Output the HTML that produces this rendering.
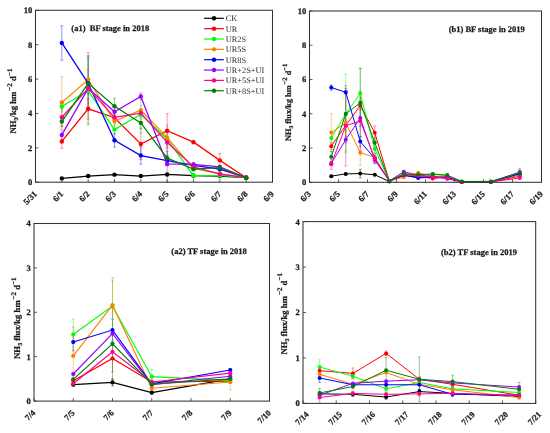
<!DOCTYPE html><html><head><meta charset="utf-8"><style>html,body{margin:0;padding:0;background:#fff;width:550px;height:433px;overflow:hidden}svg{display:block;will-change:transform}</style></head><body><svg width="550" height="433" viewBox="0 0 550 433" text-rendering="geometricPrecision"><path d="M61.83 134.58V148.34M60.33 134.58H63.33M60.33 148.34H63.33" stroke="#ff0000" stroke-width="0.6" fill="none" opacity="0.7"/>
<path d="M88.17 98.48V119.11M86.67 98.48H89.67M86.67 119.11H89.67" stroke="#ff0000" stroke-width="0.6" fill="none" opacity="0.7"/>
<path d="M114.5 112.58V122.89M113 112.58H116M113 122.89H116" stroke="#ff0000" stroke-width="0.6" fill="none" opacity="0.7"/>
<path d="M140.83 128.57V159.51M139.33 128.57H142.33M139.33 159.51H142.33" stroke="#ff0000" stroke-width="0.6" fill="none" opacity="0.7"/>
<path d="M167.17 113.61V147.99M165.67 113.61H168.67M165.67 147.99H168.67" stroke="#ff0000" stroke-width="0.6" fill="none" opacity="0.7"/>
<path d="M193.5 140.43V143.87M192 140.43H195M192 143.87H195" stroke="#ff0000" stroke-width="0.6" fill="none" opacity="0.7"/>
<path d="M219.83 153.49V167.24M218.33 153.49H221.33M218.33 167.24H221.33" stroke="#ff0000" stroke-width="0.6" fill="none" opacity="0.7"/>
<path d="M246.17 176.87V178.59M244.67 176.87H247.67M244.67 178.59H247.67" stroke="#ff0000" stroke-width="0.6" fill="none" opacity="0.7"/>
<path d="M61.83 76.65V128.22M60.33 76.65H63.33M60.33 128.22H63.33" stroke="#ff8000" stroke-width="0.6" fill="none" opacity="0.7"/>
<path d="M88.17 69.26V89.89M86.67 69.26H89.67M86.67 89.89H89.67" stroke="#ff8000" stroke-width="0.6" fill="none" opacity="0.7"/>
<path d="M114.5 115.85V126.16M113 115.85H116M113 126.16H116" stroke="#ff8000" stroke-width="0.6" fill="none" opacity="0.7"/>
<path d="M140.83 105.02V115.33M139.33 105.02H142.33M139.33 115.33H142.33" stroke="#ff8000" stroke-width="0.6" fill="none" opacity="0.7"/>
<path d="M167.17 132.52V142.83M165.67 132.52H168.67M165.67 142.83H168.67" stroke="#ff8000" stroke-width="0.6" fill="none" opacity="0.7"/>
<path d="M193.5 166.73V170.17M192 166.73H195M192 170.17H195" stroke="#ff8000" stroke-width="0.6" fill="none" opacity="0.7"/>
<path d="M219.83 171.89V175.32M218.33 171.89H221.33M218.33 175.32H221.33" stroke="#ff8000" stroke-width="0.6" fill="none" opacity="0.7"/>
<path d="M246.17 176.87V178.59M244.67 176.87H247.67M244.67 178.59H247.67" stroke="#ff8000" stroke-width="0.6" fill="none" opacity="0.7"/>
<path d="M61.83 25.77V60.15M60.33 25.77H63.33M60.33 60.15H63.33" stroke="#0000ff" stroke-width="0.6" fill="none" opacity="0.7"/>
<path d="M88.17 55.85V110.86M86.67 55.85H89.67M86.67 110.86H89.67" stroke="#0000ff" stroke-width="0.6" fill="none" opacity="0.7"/>
<path d="M114.5 133.38V147.13M113 133.38H116M113 147.13H116" stroke="#0000ff" stroke-width="0.6" fill="none" opacity="0.7"/>
<path d="M140.83 146.96V164.15M139.33 146.96H142.33M139.33 164.15H142.33" stroke="#0000ff" stroke-width="0.6" fill="none" opacity="0.7"/>
<path d="M167.17 155.38V165.7M165.67 155.38H168.67M165.67 165.7H168.67" stroke="#0000ff" stroke-width="0.6" fill="none" opacity="0.7"/>
<path d="M193.5 163.63V167.07M192 163.63H195M192 167.07H195" stroke="#0000ff" stroke-width="0.6" fill="none" opacity="0.7"/>
<path d="M219.83 167.42V170.85M218.33 167.42H221.33M218.33 170.85H221.33" stroke="#0000ff" stroke-width="0.6" fill="none" opacity="0.7"/>
<path d="M246.17 176.87V178.59M244.67 176.87H247.67M244.67 178.59H247.67" stroke="#0000ff" stroke-width="0.6" fill="none" opacity="0.7"/>
<path d="M61.83 129.77V140.08M60.33 129.77H63.33M60.33 140.08H63.33" stroke="#9900ff" stroke-width="0.6" fill="none" opacity="0.7"/>
<path d="M88.17 83.19V93.5M86.67 83.19H89.67M86.67 93.5H89.67" stroke="#9900ff" stroke-width="0.6" fill="none" opacity="0.7"/>
<path d="M114.5 106.56V116.88M113 106.56H116M113 116.88H116" stroke="#9900ff" stroke-width="0.6" fill="none" opacity="0.7"/>
<path d="M140.83 92.98V99.86M139.33 92.98H142.33M139.33 99.86H142.33" stroke="#9900ff" stroke-width="0.6" fill="none" opacity="0.7"/>
<path d="M167.17 145.07V182.2M165.67 145.07H168.67M165.67 182.2H168.67" stroke="#9900ff" stroke-width="0.6" fill="none" opacity="0.7"/>
<path d="M193.5 162.78V166.21M192 162.78H195M192 166.21H195" stroke="#9900ff" stroke-width="0.6" fill="none" opacity="0.7"/>
<path d="M219.83 165.18V168.62M218.33 165.18H221.33M218.33 168.62H221.33" stroke="#9900ff" stroke-width="0.6" fill="none" opacity="0.7"/>
<path d="M246.17 176.87V178.59M244.67 176.87H247.67M244.67 178.59H247.67" stroke="#9900ff" stroke-width="0.6" fill="none" opacity="0.7"/>
<path d="M61.83 108.63V125.82M60.33 108.63H63.33M60.33 125.82H63.33" stroke="#ff0090" stroke-width="0.6" fill="none" opacity="0.7"/>
<path d="M88.17 52.76V123.93M86.67 52.76H89.67M86.67 123.93H89.67" stroke="#ff0090" stroke-width="0.6" fill="none" opacity="0.7"/>
<path d="M114.5 112.24V122.55M113 112.24H116M113 122.55H116" stroke="#ff0090" stroke-width="0.6" fill="none" opacity="0.7"/>
<path d="M140.83 109.66V116.53M139.33 109.66H142.33M139.33 116.53H142.33" stroke="#ff0090" stroke-width="0.6" fill="none" opacity="0.7"/>
<path d="M167.17 125.13V159.51M165.67 125.13H168.67M165.67 159.51H168.67" stroke="#ff0090" stroke-width="0.6" fill="none" opacity="0.7"/>
<path d="M193.5 165.18V168.62M192 165.18H195M192 168.62H195" stroke="#ff0090" stroke-width="0.6" fill="none" opacity="0.7"/>
<path d="M219.83 172.4V175.84M218.33 172.4H221.33M218.33 175.84H221.33" stroke="#ff0090" stroke-width="0.6" fill="none" opacity="0.7"/>
<path d="M246.17 176.87V178.59M244.67 176.87H247.67M244.67 178.59H247.67" stroke="#ff0090" stroke-width="0.6" fill="none" opacity="0.7"/>
<path d="M61.83 101.41V111.72M60.33 101.41H63.33M60.33 111.72H63.33" stroke="#00ff00" stroke-width="0.6" fill="none" opacity="0.7"/>
<path d="M88.17 56.37V125.13M86.67 56.37H89.67M86.67 125.13H89.67" stroke="#00ff00" stroke-width="0.6" fill="none" opacity="0.7"/>
<path d="M114.5 124.44V134.76M113 124.44H116M113 134.76H116" stroke="#00ff00" stroke-width="0.6" fill="none" opacity="0.7"/>
<path d="M140.83 95.39V133.21M139.33 95.39H142.33M139.33 133.21H142.33" stroke="#00ff00" stroke-width="0.6" fill="none" opacity="0.7"/>
<path d="M167.17 134.07V144.38M165.67 134.07H168.67M165.67 144.38H168.67" stroke="#00ff00" stroke-width="0.6" fill="none" opacity="0.7"/>
<path d="M193.5 173.78V177.21M192 173.78H195M192 177.21H195" stroke="#00ff00" stroke-width="0.6" fill="none" opacity="0.7"/>
<path d="M219.83 173.78V177.21M218.33 173.78H221.33M218.33 177.21H221.33" stroke="#00ff00" stroke-width="0.6" fill="none" opacity="0.7"/>
<path d="M246.17 176.87V178.59M244.67 176.87H247.67M244.67 178.59H247.67" stroke="#00ff00" stroke-width="0.6" fill="none" opacity="0.7"/>
<path d="M61.83 116.36V126.68M60.33 116.36H63.33M60.33 126.68H63.33" stroke="#008000" stroke-width="0.6" fill="none" opacity="0.7"/>
<path d="M88.17 58.43V108.28M86.67 58.43H89.67M86.67 108.28H89.67" stroke="#008000" stroke-width="0.6" fill="none" opacity="0.7"/>
<path d="M114.5 98.14V114.3M113 98.14H116M113 114.3H116" stroke="#008000" stroke-width="0.6" fill="none" opacity="0.7"/>
<path d="M140.83 117.74V128.05M139.33 117.74H142.33M139.33 128.05H142.33" stroke="#008000" stroke-width="0.6" fill="none" opacity="0.7"/>
<path d="M167.17 151.26V165.01M165.67 151.26H168.67M165.67 165.01H168.67" stroke="#008000" stroke-width="0.6" fill="none" opacity="0.7"/>
<path d="M193.5 167.42V170.85M192 167.42H195M192 170.85H195" stroke="#008000" stroke-width="0.6" fill="none" opacity="0.7"/>
<path d="M219.83 165.87V169.31M218.33 165.87H221.33M218.33 169.31H221.33" stroke="#008000" stroke-width="0.6" fill="none" opacity="0.7"/>
<path d="M246.17 176.87V178.59M244.67 176.87H247.67M244.67 178.59H247.67" stroke="#008000" stroke-width="0.6" fill="none" opacity="0.7"/>
<polyline points="61.83,178.42 88.17,176.01 114.5,174.64 140.83,176.01 167.17,174.46 193.5,175.67 219.83,176.01 246.17,177.73" stroke="#000000" stroke-width="1.25" fill="none"/>
<circle cx="61.83" cy="178.42" r="2.2" fill="#000000"/>
<circle cx="88.17" cy="176.01" r="2.2" fill="#000000"/>
<circle cx="114.5" cy="174.64" r="2.2" fill="#000000"/>
<circle cx="140.83" cy="176.01" r="2.2" fill="#000000"/>
<circle cx="167.17" cy="174.46" r="2.2" fill="#000000"/>
<circle cx="193.5" cy="175.67" r="2.2" fill="#000000"/>
<circle cx="219.83" cy="176.01" r="2.2" fill="#000000"/>
<circle cx="246.17" cy="177.73" r="2.2" fill="#000000"/>
<polyline points="61.83,141.46 88.17,108.8 114.5,117.74 140.83,144.04 167.17,130.8 193.5,142.15 219.83,160.37 246.17,177.73" stroke="#ff0000" stroke-width="1.25" fill="none"/>
<circle cx="61.83" cy="141.46" r="2.2" fill="#ff0000"/>
<circle cx="88.17" cy="108.8" r="2.2" fill="#ff0000"/>
<circle cx="114.5" cy="117.74" r="2.2" fill="#ff0000"/>
<circle cx="140.83" cy="144.04" r="2.2" fill="#ff0000"/>
<circle cx="167.17" cy="130.8" r="2.2" fill="#ff0000"/>
<circle cx="193.5" cy="142.15" r="2.2" fill="#ff0000"/>
<circle cx="219.83" cy="160.37" r="2.2" fill="#ff0000"/>
<circle cx="246.17" cy="177.73" r="2.2" fill="#ff0000"/>
<polyline points="61.83,106.56 88.17,90.75 114.5,129.6 140.83,114.3 167.17,139.22 193.5,175.5 219.83,175.5 246.17,177.73" stroke="#00ff00" stroke-width="1.25" fill="none"/>
<circle cx="61.83" cy="106.56" r="2.2" fill="#00ff00"/>
<circle cx="88.17" cy="90.75" r="2.2" fill="#00ff00"/>
<circle cx="114.5" cy="129.6" r="2.2" fill="#00ff00"/>
<circle cx="140.83" cy="114.3" r="2.2" fill="#00ff00"/>
<circle cx="167.17" cy="139.22" r="2.2" fill="#00ff00"/>
<circle cx="193.5" cy="175.5" r="2.2" fill="#00ff00"/>
<circle cx="219.83" cy="175.5" r="2.2" fill="#00ff00"/>
<circle cx="246.17" cy="177.73" r="2.2" fill="#00ff00"/>
<polyline points="61.83,102.44 88.17,79.58 114.5,121 140.83,110.17 167.17,137.68 193.5,168.45 219.83,173.6 246.17,177.73" stroke="#ff8000" stroke-width="1.25" fill="none"/>
<circle cx="61.83" cy="102.44" r="2.2" fill="#ff8000"/>
<circle cx="88.17" cy="79.58" r="2.2" fill="#ff8000"/>
<circle cx="114.5" cy="121" r="2.2" fill="#ff8000"/>
<circle cx="140.83" cy="110.17" r="2.2" fill="#ff8000"/>
<circle cx="167.17" cy="137.68" r="2.2" fill="#ff8000"/>
<circle cx="193.5" cy="168.45" r="2.2" fill="#ff8000"/>
<circle cx="219.83" cy="173.6" r="2.2" fill="#ff8000"/>
<circle cx="246.17" cy="177.73" r="2.2" fill="#ff8000"/>
<polyline points="61.83,42.96 88.17,83.36 114.5,140.26 140.83,155.56 167.17,160.54 193.5,165.35 219.83,169.14 246.17,177.73" stroke="#0000ff" stroke-width="1.25" fill="none"/>
<circle cx="61.83" cy="42.96" r="2.2" fill="#0000ff"/>
<circle cx="88.17" cy="83.36" r="2.2" fill="#0000ff"/>
<circle cx="114.5" cy="140.26" r="2.2" fill="#0000ff"/>
<circle cx="140.83" cy="155.56" r="2.2" fill="#0000ff"/>
<circle cx="167.17" cy="160.54" r="2.2" fill="#0000ff"/>
<circle cx="193.5" cy="165.35" r="2.2" fill="#0000ff"/>
<circle cx="219.83" cy="169.14" r="2.2" fill="#0000ff"/>
<circle cx="246.17" cy="177.73" r="2.2" fill="#0000ff"/>
<polyline points="61.83,134.93 88.17,88.34 114.5,111.72 140.83,96.42 167.17,163.98 193.5,164.49 219.83,166.9 246.17,177.73" stroke="#9900ff" stroke-width="1.25" fill="none"/>
<circle cx="61.83" cy="134.93" r="2.2" fill="#9900ff"/>
<circle cx="88.17" cy="88.34" r="2.2" fill="#9900ff"/>
<circle cx="114.5" cy="111.72" r="2.2" fill="#9900ff"/>
<circle cx="140.83" cy="96.42" r="2.2" fill="#9900ff"/>
<circle cx="167.17" cy="163.98" r="2.2" fill="#9900ff"/>
<circle cx="193.5" cy="164.49" r="2.2" fill="#9900ff"/>
<circle cx="219.83" cy="166.9" r="2.2" fill="#9900ff"/>
<circle cx="246.17" cy="177.73" r="2.2" fill="#9900ff"/>
<polyline points="61.83,117.22 88.17,88.34 114.5,117.39 140.83,113.1 167.17,142.32 193.5,166.9 219.83,174.12 246.17,177.73" stroke="#ff0090" stroke-width="1.25" fill="none"/>
<circle cx="61.83" cy="117.22" r="2.2" fill="#ff0090"/>
<circle cx="88.17" cy="88.34" r="2.2" fill="#ff0090"/>
<circle cx="114.5" cy="117.39" r="2.2" fill="#ff0090"/>
<circle cx="140.83" cy="113.1" r="2.2" fill="#ff0090"/>
<circle cx="167.17" cy="142.32" r="2.2" fill="#ff0090"/>
<circle cx="193.5" cy="166.9" r="2.2" fill="#ff0090"/>
<circle cx="219.83" cy="174.12" r="2.2" fill="#ff0090"/>
<circle cx="246.17" cy="177.73" r="2.2" fill="#ff0090"/>
<polyline points="61.83,121.52 88.17,83.36 114.5,106.22 140.83,122.89 167.17,158.13 193.5,169.14 219.83,167.59 246.17,177.73" stroke="#008000" stroke-width="1.25" fill="none"/>
<circle cx="61.83" cy="121.52" r="2.2" fill="#008000"/>
<circle cx="88.17" cy="83.36" r="2.2" fill="#008000"/>
<circle cx="114.5" cy="106.22" r="2.2" fill="#008000"/>
<circle cx="140.83" cy="122.89" r="2.2" fill="#008000"/>
<circle cx="167.17" cy="158.13" r="2.2" fill="#008000"/>
<circle cx="193.5" cy="169.14" r="2.2" fill="#008000"/>
<circle cx="219.83" cy="167.59" r="2.2" fill="#008000"/>
<circle cx="246.17" cy="177.73" r="2.2" fill="#008000"/>
<rect x="35.5" y="10.3" width="237" height="171.9" fill="none" stroke="#333333" stroke-width="1.05"/>
<path d="M35.5 182.2V179.2" stroke="#333333" stroke-width="0.8"/>
<text x="37.5" y="194.5" text-anchor="end" transform="rotate(-45 37.5 194.5)" font-family="Liberation Serif" font-weight="bold" font-size="8.5" fill="#1a1a1a" stroke="#1a1a1a" stroke-width="0.25">5/31</text>
<path d="M61.83 182.2V179.2" stroke="#333333" stroke-width="0.8"/>
<text x="63.83" y="194.5" text-anchor="end" transform="rotate(-45 63.83 194.5)" font-family="Liberation Serif" font-weight="bold" font-size="8.5" fill="#1a1a1a" stroke="#1a1a1a" stroke-width="0.25">6/1</text>
<path d="M88.17 182.2V179.2" stroke="#333333" stroke-width="0.8"/>
<text x="90.17" y="194.5" text-anchor="end" transform="rotate(-45 90.17 194.5)" font-family="Liberation Serif" font-weight="bold" font-size="8.5" fill="#1a1a1a" stroke="#1a1a1a" stroke-width="0.25">6/2</text>
<path d="M114.5 182.2V179.2" stroke="#333333" stroke-width="0.8"/>
<text x="116.5" y="194.5" text-anchor="end" transform="rotate(-45 116.5 194.5)" font-family="Liberation Serif" font-weight="bold" font-size="8.5" fill="#1a1a1a" stroke="#1a1a1a" stroke-width="0.25">6/3</text>
<path d="M140.83 182.2V179.2" stroke="#333333" stroke-width="0.8"/>
<text x="142.83" y="194.5" text-anchor="end" transform="rotate(-45 142.83 194.5)" font-family="Liberation Serif" font-weight="bold" font-size="8.5" fill="#1a1a1a" stroke="#1a1a1a" stroke-width="0.25">6/4</text>
<path d="M167.17 182.2V179.2" stroke="#333333" stroke-width="0.8"/>
<text x="169.17" y="194.5" text-anchor="end" transform="rotate(-45 169.17 194.5)" font-family="Liberation Serif" font-weight="bold" font-size="8.5" fill="#1a1a1a" stroke="#1a1a1a" stroke-width="0.25">6/5</text>
<path d="M193.5 182.2V179.2" stroke="#333333" stroke-width="0.8"/>
<text x="195.5" y="194.5" text-anchor="end" transform="rotate(-45 195.5 194.5)" font-family="Liberation Serif" font-weight="bold" font-size="8.5" fill="#1a1a1a" stroke="#1a1a1a" stroke-width="0.25">6/6</text>
<path d="M219.83 182.2V179.2" stroke="#333333" stroke-width="0.8"/>
<text x="221.83" y="194.5" text-anchor="end" transform="rotate(-45 221.83 194.5)" font-family="Liberation Serif" font-weight="bold" font-size="8.5" fill="#1a1a1a" stroke="#1a1a1a" stroke-width="0.25">6/7</text>
<path d="M246.17 182.2V179.2" stroke="#333333" stroke-width="0.8"/>
<text x="248.17" y="194.5" text-anchor="end" transform="rotate(-45 248.17 194.5)" font-family="Liberation Serif" font-weight="bold" font-size="8.5" fill="#1a1a1a" stroke="#1a1a1a" stroke-width="0.25">6/8</text>
<path d="M272.5 182.2V179.2" stroke="#333333" stroke-width="0.8"/>
<text x="274.5" y="194.5" text-anchor="end" transform="rotate(-45 274.5 194.5)" font-family="Liberation Serif" font-weight="bold" font-size="8.5" fill="#1a1a1a" stroke="#1a1a1a" stroke-width="0.25">6/9</text>
<path d="M35.5 182.2H38.5" stroke="#333333" stroke-width="0.8"/>
<text x="32.2" y="185.1" text-anchor="end" font-family="Liberation Serif" font-weight="bold" font-size="8.5" fill="#1a1a1a" stroke="#1a1a1a" stroke-width="0.25">0</text>
<path d="M35.5 147.82H38.5" stroke="#333333" stroke-width="0.8"/>
<text x="32.2" y="150.72" text-anchor="end" font-family="Liberation Serif" font-weight="bold" font-size="8.5" fill="#1a1a1a" stroke="#1a1a1a" stroke-width="0.25">2</text>
<path d="M35.5 113.44H38.5" stroke="#333333" stroke-width="0.8"/>
<text x="32.2" y="116.34" text-anchor="end" font-family="Liberation Serif" font-weight="bold" font-size="8.5" fill="#1a1a1a" stroke="#1a1a1a" stroke-width="0.25">4</text>
<path d="M35.5 79.06H38.5" stroke="#333333" stroke-width="0.8"/>
<text x="32.2" y="81.96" text-anchor="end" font-family="Liberation Serif" font-weight="bold" font-size="8.5" fill="#1a1a1a" stroke="#1a1a1a" stroke-width="0.25">6</text>
<path d="M35.5 44.68H38.5" stroke="#333333" stroke-width="0.8"/>
<text x="32.2" y="47.58" text-anchor="end" font-family="Liberation Serif" font-weight="bold" font-size="8.5" fill="#1a1a1a" stroke="#1a1a1a" stroke-width="0.25">8</text>
<path d="M35.5 10.3H38.5" stroke="#333333" stroke-width="0.8"/>
<text x="32.2" y="13.2" text-anchor="end" font-family="Liberation Serif" font-weight="bold" font-size="8.5" fill="#1a1a1a" stroke="#1a1a1a" stroke-width="0.25">10</text>
<text x="71.3" y="30.8" font-family="Liberation Serif" font-weight="bold" font-size="8.5" fill="#1a1a1a" stroke="#1a1a1a" stroke-width="0.25" xml:space="preserve">(a1)  BF stage in 2018</text>
<text transform="translate(16 133.5) rotate(-90) scale(1.000)" font-family="Liberation Serif" font-weight="bold" font-size="8.7" fill="#1a1a1a" stroke="#1a1a1a" stroke-width="0.25">NH<tspan font-size="6" dy="2">3</tspan><tspan dy="-2">/kg hm</tspan><tspan font-size="7" dx="1" dy="-4.2">&#8722;2</tspan><tspan dy="4.2"> d</tspan><tspan font-size="7" dy="-4.2">&#8722;1</tspan></text>
<path d="M204.1 18.3H223.8" stroke="#000000" stroke-width="1.2"/>
<circle cx="214" cy="18.3" r="2.2" fill="#000000"/>
<text x="225.8" y="21.3" font-family="Liberation Serif" font-size="8.3" fill="#2a2a2a">CK</text>
<path d="M204.1 28.65H223.8" stroke="#ff0000" stroke-width="1.2"/>
<circle cx="214" cy="28.65" r="2.2" fill="#ff0000"/>
<text x="225.8" y="31.65" font-family="Liberation Serif" font-size="8.3" fill="#2a2a2a">UR</text>
<path d="M204.1 39H223.8" stroke="#00ff00" stroke-width="1.2"/>
<circle cx="214" cy="39" r="2.2" fill="#00ff00"/>
<text x="225.8" y="42" font-family="Liberation Serif" font-size="8.3" fill="#2a2a2a">UR2S</text>
<path d="M204.1 49.35H223.8" stroke="#ff8000" stroke-width="1.2"/>
<circle cx="214" cy="49.35" r="2.2" fill="#ff8000"/>
<text x="225.8" y="52.35" font-family="Liberation Serif" font-size="8.3" fill="#2a2a2a">UR5S</text>
<path d="M204.1 59.7H223.8" stroke="#0000ff" stroke-width="1.2"/>
<circle cx="214" cy="59.7" r="2.2" fill="#0000ff"/>
<text x="225.8" y="62.7" font-family="Liberation Serif" font-size="8.3" fill="#2a2a2a">UR8S</text>
<path d="M204.1 70.05H223.8" stroke="#9900ff" stroke-width="1.2"/>
<circle cx="214" cy="70.05" r="2.2" fill="#9900ff"/>
<text x="225.8" y="73.05" font-family="Liberation Serif" font-size="8.3" fill="#2a2a2a">UR+2S+UI</text>
<path d="M204.1 80.4H223.8" stroke="#ff0090" stroke-width="1.2"/>
<circle cx="214" cy="80.4" r="2.2" fill="#ff0090"/>
<text x="225.8" y="83.4" font-family="Liberation Serif" font-size="8.3" fill="#2a2a2a">UR+5S+UI</text>
<path d="M204.1 90.75H223.8" stroke="#008000" stroke-width="1.2"/>
<circle cx="214" cy="90.75" r="2.2" fill="#008000"/>
<text x="225.8" y="93.75" font-family="Liberation Serif" font-size="8.3" fill="#2a2a2a">UR+8S+UI</text>
<path d="M331.25 175.28V176.99M329.75 175.28H332.75M329.75 176.99H332.75" stroke="#000000" stroke-width="0.6" fill="none" opacity="0.7"/>
<path d="M345.75 173.05V174.76M344.25 173.05H347.25M344.25 174.76H347.25" stroke="#000000" stroke-width="0.6" fill="none" opacity="0.7"/>
<path d="M360.25 169.28V177.85M358.75 169.28H361.75M358.75 177.85H361.75" stroke="#000000" stroke-width="0.6" fill="none" opacity="0.7"/>
<path d="M374.75 173.91V175.62M373.25 173.91H376.25M373.25 175.62H376.25" stroke="#000000" stroke-width="0.6" fill="none" opacity="0.7"/>
<path d="M389.25 181.1V181.79M387.75 181.1H390.75M387.75 181.79H390.75" stroke="#000000" stroke-width="0.6" fill="none" opacity="0.7"/>
<path d="M403.75 174.59V176.3M402.25 174.59H405.25M402.25 176.3H405.25" stroke="#000000" stroke-width="0.6" fill="none" opacity="0.7"/>
<path d="M418.25 176.3V178.02M416.75 176.3H419.75M416.75 178.02H419.75" stroke="#000000" stroke-width="0.6" fill="none" opacity="0.7"/>
<path d="M432.75 176.3V178.02M431.25 176.3H434.25M431.25 178.02H434.25" stroke="#000000" stroke-width="0.6" fill="none" opacity="0.7"/>
<path d="M447.25 176.3V178.02M445.75 176.3H448.75M445.75 178.02H448.75" stroke="#000000" stroke-width="0.6" fill="none" opacity="0.7"/>
<path d="M519.75 173.74V175.45M518.25 173.74H521.25M518.25 175.45H521.25" stroke="#000000" stroke-width="0.6" fill="none" opacity="0.7"/>
<path d="M331.25 142.73V149.58M329.75 142.73H332.75M329.75 149.58H332.75" stroke="#ff0000" stroke-width="0.6" fill="none" opacity="0.7"/>
<path d="M345.75 120.29V130.57M344.25 120.29H347.25M344.25 130.57H347.25" stroke="#ff0000" stroke-width="0.6" fill="none" opacity="0.7"/>
<path d="M360.25 91.85V119.26M358.75 91.85H361.75M358.75 119.26H361.75" stroke="#ff0000" stroke-width="0.6" fill="none" opacity="0.7"/>
<path d="M374.75 125.94V139.65M373.25 125.94H376.25M373.25 139.65H376.25" stroke="#ff0000" stroke-width="0.6" fill="none" opacity="0.7"/>
<path d="M389.25 180.59V181.27M387.75 180.59H390.75M387.75 181.27H390.75" stroke="#ff0000" stroke-width="0.6" fill="none" opacity="0.7"/>
<path d="M403.75 173.74V175.45M402.25 173.74H405.25M402.25 175.45H405.25" stroke="#ff0000" stroke-width="0.6" fill="none" opacity="0.7"/>
<path d="M418.25 175.45V177.16M416.75 175.45H419.75M416.75 177.16H419.75" stroke="#ff0000" stroke-width="0.6" fill="none" opacity="0.7"/>
<path d="M432.75 177.67V179.39M431.25 177.67H434.25M431.25 179.39H434.25" stroke="#ff0000" stroke-width="0.6" fill="none" opacity="0.7"/>
<path d="M447.25 176.3V178.02M445.75 176.3H448.75M445.75 178.02H448.75" stroke="#ff0000" stroke-width="0.6" fill="none" opacity="0.7"/>
<path d="M519.75 175.45V177.16M518.25 175.45H521.25M518.25 177.16H521.25" stroke="#ff0000" stroke-width="0.6" fill="none" opacity="0.7"/>
<path d="M331.25 113.78V151.47M329.75 113.78H332.75M329.75 151.47H332.75" stroke="#ff8000" stroke-width="0.6" fill="none" opacity="0.7"/>
<path d="M345.75 93.74V151.98M344.25 93.74H347.25M344.25 151.98H347.25" stroke="#ff8000" stroke-width="0.6" fill="none" opacity="0.7"/>
<path d="M360.25 139.82V165.51M358.75 139.82H361.75M358.75 165.51H361.75" stroke="#ff8000" stroke-width="0.6" fill="none" opacity="0.7"/>
<path d="M374.75 152.15V162.43M373.25 152.15H376.25M373.25 162.43H376.25" stroke="#ff8000" stroke-width="0.6" fill="none" opacity="0.7"/>
<path d="M389.25 180.59V181.27M387.75 180.59H390.75M387.75 181.27H390.75" stroke="#ff8000" stroke-width="0.6" fill="none" opacity="0.7"/>
<path d="M403.75 176.3V178.02M402.25 176.3H405.25M402.25 178.02H405.25" stroke="#ff8000" stroke-width="0.6" fill="none" opacity="0.7"/>
<path d="M418.25 171.85V173.56M416.75 171.85H419.75M416.75 173.56H419.75" stroke="#ff8000" stroke-width="0.6" fill="none" opacity="0.7"/>
<path d="M432.75 175.45V177.16M431.25 175.45H434.25M431.25 177.16H434.25" stroke="#ff8000" stroke-width="0.6" fill="none" opacity="0.7"/>
<path d="M447.25 175.45V177.16M445.75 175.45H448.75M445.75 177.16H448.75" stroke="#ff8000" stroke-width="0.6" fill="none" opacity="0.7"/>
<path d="M519.75 173.74V175.45M518.25 173.74H521.25M518.25 175.45H521.25" stroke="#ff8000" stroke-width="0.6" fill="none" opacity="0.7"/>
<path d="M331.25 85V90.14M329.75 85H332.75M329.75 90.14H332.75" stroke="#0000ff" stroke-width="0.6" fill="none" opacity="0.7"/>
<path d="M345.75 90.48V93.91M344.25 90.48H347.25M344.25 93.91H347.25" stroke="#0000ff" stroke-width="0.6" fill="none" opacity="0.7"/>
<path d="M360.25 136.39V146.67M358.75 136.39H361.75M358.75 146.67H361.75" stroke="#0000ff" stroke-width="0.6" fill="none" opacity="0.7"/>
<path d="M374.75 155.06V161.92M373.25 155.06H376.25M373.25 161.92H376.25" stroke="#0000ff" stroke-width="0.6" fill="none" opacity="0.7"/>
<path d="M389.25 180.59V181.27M387.75 180.59H390.75M387.75 181.27H390.75" stroke="#0000ff" stroke-width="0.6" fill="none" opacity="0.7"/>
<path d="M403.75 174.25V175.96M402.25 174.25H405.25M402.25 175.96H405.25" stroke="#0000ff" stroke-width="0.6" fill="none" opacity="0.7"/>
<path d="M418.25 177.16V178.87M416.75 177.16H419.75M416.75 178.87H419.75" stroke="#0000ff" stroke-width="0.6" fill="none" opacity="0.7"/>
<path d="M432.75 176.3V178.02M431.25 176.3H434.25M431.25 178.02H434.25" stroke="#0000ff" stroke-width="0.6" fill="none" opacity="0.7"/>
<path d="M447.25 176.3V178.02M445.75 176.3H448.75M445.75 178.02H448.75" stroke="#0000ff" stroke-width="0.6" fill="none" opacity="0.7"/>
<path d="M519.75 172.88V174.59M518.25 172.88H521.25M518.25 174.59H521.25" stroke="#0000ff" stroke-width="0.6" fill="none" opacity="0.7"/>
<path d="M331.25 161.74V165.17M329.75 161.74H332.75M329.75 165.17H332.75" stroke="#9900ff" stroke-width="0.6" fill="none" opacity="0.7"/>
<path d="M345.75 136.22V143.07M344.25 136.22H347.25M344.25 143.07H347.25" stroke="#9900ff" stroke-width="0.6" fill="none" opacity="0.7"/>
<path d="M360.25 109.5V126.63M358.75 109.5H361.75M358.75 126.63H361.75" stroke="#9900ff" stroke-width="0.6" fill="none" opacity="0.7"/>
<path d="M374.75 156.61V163.46M373.25 156.61H376.25M373.25 163.46H376.25" stroke="#9900ff" stroke-width="0.6" fill="none" opacity="0.7"/>
<path d="M389.25 180.59V181.27M387.75 180.59H390.75M387.75 181.27H390.75" stroke="#9900ff" stroke-width="0.6" fill="none" opacity="0.7"/>
<path d="M403.75 170.82V172.54M402.25 170.82H405.25M402.25 172.54H405.25" stroke="#9900ff" stroke-width="0.6" fill="none" opacity="0.7"/>
<path d="M418.25 174.59V176.3M416.75 174.59H419.75M416.75 176.3H419.75" stroke="#9900ff" stroke-width="0.6" fill="none" opacity="0.7"/>
<path d="M432.75 175.45V177.16M431.25 175.45H434.25M431.25 177.16H434.25" stroke="#9900ff" stroke-width="0.6" fill="none" opacity="0.7"/>
<path d="M447.25 178.02V179.73M445.75 178.02H448.75M445.75 179.73H448.75" stroke="#9900ff" stroke-width="0.6" fill="none" opacity="0.7"/>
<path d="M519.75 168.25V175.79M518.25 168.25H521.25M518.25 175.79H521.25" stroke="#9900ff" stroke-width="0.6" fill="none" opacity="0.7"/>
<path d="M331.25 159V169.28M329.75 159H332.75M329.75 169.28H332.75" stroke="#ff0090" stroke-width="0.6" fill="none" opacity="0.7"/>
<path d="M345.75 85.52V166.03M344.25 85.52H347.25M344.25 166.03H347.25" stroke="#ff0090" stroke-width="0.6" fill="none" opacity="0.7"/>
<path d="M360.25 91.85V150.1M358.75 91.85H361.75M358.75 150.1H361.75" stroke="#ff0090" stroke-width="0.6" fill="none" opacity="0.7"/>
<path d="M374.75 153.35V163.63M373.25 153.35H376.25M373.25 163.63H376.25" stroke="#ff0090" stroke-width="0.6" fill="none" opacity="0.7"/>
<path d="M389.25 180.59V181.27M387.75 180.59H390.75M387.75 181.27H390.75" stroke="#ff0090" stroke-width="0.6" fill="none" opacity="0.7"/>
<path d="M403.75 173.74V175.45M402.25 173.74H405.25M402.25 175.45H405.25" stroke="#ff0090" stroke-width="0.6" fill="none" opacity="0.7"/>
<path d="M418.25 174.59V176.3M416.75 174.59H419.75M416.75 176.3H419.75" stroke="#ff0090" stroke-width="0.6" fill="none" opacity="0.7"/>
<path d="M432.75 176.3V178.02M431.25 176.3H434.25M431.25 178.02H434.25" stroke="#ff0090" stroke-width="0.6" fill="none" opacity="0.7"/>
<path d="M447.25 177.16V178.87M445.75 177.16H448.75M445.75 178.87H448.75" stroke="#ff0090" stroke-width="0.6" fill="none" opacity="0.7"/>
<path d="M519.75 177.16V178.87M518.25 177.16H521.25M518.25 178.87H521.25" stroke="#ff0090" stroke-width="0.6" fill="none" opacity="0.7"/>
<path d="M331.25 132.79V143.07M329.75 132.79H332.75M329.75 143.07H332.75" stroke="#00ff00" stroke-width="0.6" fill="none" opacity="0.7"/>
<path d="M345.75 74.38V153.18M344.25 74.38H347.25M344.25 153.18H347.25" stroke="#00ff00" stroke-width="0.6" fill="none" opacity="0.7"/>
<path d="M360.25 67.87V119.26M358.75 67.87H361.75M358.75 119.26H361.75" stroke="#00ff00" stroke-width="0.6" fill="none" opacity="0.7"/>
<path d="M374.75 143.76V154.04M373.25 143.76H376.25M373.25 154.04H376.25" stroke="#00ff00" stroke-width="0.6" fill="none" opacity="0.7"/>
<path d="M389.25 180.59V181.27M387.75 180.59H390.75M387.75 181.27H390.75" stroke="#00ff00" stroke-width="0.6" fill="none" opacity="0.7"/>
<path d="M403.75 173.22V174.93M402.25 173.22H405.25M402.25 174.93H405.25" stroke="#00ff00" stroke-width="0.6" fill="none" opacity="0.7"/>
<path d="M418.25 174.25V175.96M416.75 174.25H419.75M416.75 175.96H419.75" stroke="#00ff00" stroke-width="0.6" fill="none" opacity="0.7"/>
<path d="M432.75 173.22V174.93M431.25 173.22H434.25M431.25 174.93H434.25" stroke="#00ff00" stroke-width="0.6" fill="none" opacity="0.7"/>
<path d="M447.25 174.93V176.65M445.75 174.93H448.75M445.75 176.65H448.75" stroke="#00ff00" stroke-width="0.6" fill="none" opacity="0.7"/>
<path d="M519.75 172.02V175.45M518.25 172.02H521.25M518.25 175.45H521.25" stroke="#00ff00" stroke-width="0.6" fill="none" opacity="0.7"/>
<path d="M331.25 151.64V161.92M329.75 151.64H332.75M329.75 161.92H332.75" stroke="#008000" stroke-width="0.6" fill="none" opacity="0.7"/>
<path d="M345.75 88.26V139.65M344.25 88.26H347.25M344.25 139.65H347.25" stroke="#008000" stroke-width="0.6" fill="none" opacity="0.7"/>
<path d="M360.25 68.56V137.08M358.75 68.56H361.75M358.75 137.08H361.75" stroke="#008000" stroke-width="0.6" fill="none" opacity="0.7"/>
<path d="M374.75 137.42V147.7M373.25 137.42H376.25M373.25 147.7H376.25" stroke="#008000" stroke-width="0.6" fill="none" opacity="0.7"/>
<path d="M389.25 180.59V181.27M387.75 180.59H390.75M387.75 181.27H390.75" stroke="#008000" stroke-width="0.6" fill="none" opacity="0.7"/>
<path d="M403.75 172.88V174.59M402.25 172.88H405.25M402.25 174.59H405.25" stroke="#008000" stroke-width="0.6" fill="none" opacity="0.7"/>
<path d="M418.25 173.74V175.45M416.75 173.74H419.75M416.75 175.45H419.75" stroke="#008000" stroke-width="0.6" fill="none" opacity="0.7"/>
<path d="M432.75 173.22V174.93M431.25 173.22H434.25M431.25 174.93H434.25" stroke="#008000" stroke-width="0.6" fill="none" opacity="0.7"/>
<path d="M447.25 174.25V175.96M445.75 174.25H448.75M445.75 175.96H448.75" stroke="#008000" stroke-width="0.6" fill="none" opacity="0.7"/>
<path d="M519.75 170.14V175.28M518.25 170.14H521.25M518.25 175.28H521.25" stroke="#008000" stroke-width="0.6" fill="none" opacity="0.7"/>
<polyline points="331.25,176.13 345.75,173.91 360.25,173.56 374.75,174.76 389.25,181.44 403.75,175.45 418.25,177.16 432.75,177.16 447.25,177.16 461.75,181.96 490.75,181.96 519.75,174.59" stroke="#000000" stroke-width="1.0" fill="none"/>
<circle cx="331.25" cy="176.13" r="2.0" fill="#000000"/>
<circle cx="345.75" cy="173.91" r="2.0" fill="#000000"/>
<circle cx="360.25" cy="173.56" r="2.0" fill="#000000"/>
<circle cx="374.75" cy="174.76" r="2.0" fill="#000000"/>
<circle cx="389.25" cy="181.44" r="2.0" fill="#000000"/>
<circle cx="403.75" cy="175.45" r="2.0" fill="#000000"/>
<circle cx="418.25" cy="177.16" r="2.0" fill="#000000"/>
<circle cx="432.75" cy="177.16" r="2.0" fill="#000000"/>
<circle cx="447.25" cy="177.16" r="2.0" fill="#000000"/>
<circle cx="461.75" cy="181.96" r="2.0" fill="#000000"/>
<circle cx="490.75" cy="181.96" r="2.0" fill="#000000"/>
<circle cx="519.75" cy="174.59" r="2.0" fill="#000000"/>
<polyline points="331.25,146.16 345.75,125.43 360.25,105.56 374.75,132.79 389.25,180.93 403.75,174.59 418.25,176.3 432.75,178.53 447.25,177.16 461.75,181.96 490.75,181.96 519.75,176.3" stroke="#ff0000" stroke-width="1.0" fill="none"/>
<circle cx="331.25" cy="146.16" r="2.0" fill="#ff0000"/>
<circle cx="345.75" cy="125.43" r="2.0" fill="#ff0000"/>
<circle cx="360.25" cy="105.56" r="2.0" fill="#ff0000"/>
<circle cx="374.75" cy="132.79" r="2.0" fill="#ff0000"/>
<circle cx="389.25" cy="180.93" r="2.0" fill="#ff0000"/>
<circle cx="403.75" cy="174.59" r="2.0" fill="#ff0000"/>
<circle cx="418.25" cy="176.3" r="2.0" fill="#ff0000"/>
<circle cx="432.75" cy="178.53" r="2.0" fill="#ff0000"/>
<circle cx="447.25" cy="177.16" r="2.0" fill="#ff0000"/>
<circle cx="461.75" cy="181.96" r="2.0" fill="#ff0000"/>
<circle cx="490.75" cy="181.96" r="2.0" fill="#ff0000"/>
<circle cx="519.75" cy="176.3" r="2.0" fill="#ff0000"/>
<polyline points="331.25,137.93 345.75,113.78 360.25,93.57 374.75,148.9 389.25,180.93 403.75,174.08 418.25,175.11 432.75,174.08 447.25,175.79 461.75,181.44 490.75,181.44 519.75,173.74" stroke="#00ff00" stroke-width="1.0" fill="none"/>
<circle cx="331.25" cy="137.93" r="2.0" fill="#00ff00"/>
<circle cx="345.75" cy="113.78" r="2.0" fill="#00ff00"/>
<circle cx="360.25" cy="93.57" r="2.0" fill="#00ff00"/>
<circle cx="374.75" cy="148.9" r="2.0" fill="#00ff00"/>
<circle cx="389.25" cy="180.93" r="2.0" fill="#00ff00"/>
<circle cx="403.75" cy="174.08" r="2.0" fill="#00ff00"/>
<circle cx="418.25" cy="175.11" r="2.0" fill="#00ff00"/>
<circle cx="432.75" cy="174.08" r="2.0" fill="#00ff00"/>
<circle cx="447.25" cy="175.79" r="2.0" fill="#00ff00"/>
<circle cx="461.75" cy="181.44" r="2.0" fill="#00ff00"/>
<circle cx="490.75" cy="181.44" r="2.0" fill="#00ff00"/>
<circle cx="519.75" cy="173.74" r="2.0" fill="#00ff00"/>
<polyline points="331.25,132.62 345.75,122.86 360.25,152.67 374.75,157.29 389.25,180.93 403.75,177.16 418.25,172.71 432.75,176.3 447.25,176.3 461.75,181.96 490.75,181.96 519.75,174.59" stroke="#ff8000" stroke-width="1.0" fill="none"/>
<circle cx="331.25" cy="132.62" r="2.0" fill="#ff8000"/>
<circle cx="345.75" cy="122.86" r="2.0" fill="#ff8000"/>
<circle cx="360.25" cy="152.67" r="2.0" fill="#ff8000"/>
<circle cx="374.75" cy="157.29" r="2.0" fill="#ff8000"/>
<circle cx="389.25" cy="180.93" r="2.0" fill="#ff8000"/>
<circle cx="403.75" cy="177.16" r="2.0" fill="#ff8000"/>
<circle cx="418.25" cy="172.71" r="2.0" fill="#ff8000"/>
<circle cx="432.75" cy="176.3" r="2.0" fill="#ff8000"/>
<circle cx="447.25" cy="176.3" r="2.0" fill="#ff8000"/>
<circle cx="461.75" cy="181.96" r="2.0" fill="#ff8000"/>
<circle cx="490.75" cy="181.96" r="2.0" fill="#ff8000"/>
<circle cx="519.75" cy="174.59" r="2.0" fill="#ff8000"/>
<polyline points="331.25,87.57 345.75,92.2 360.25,141.53 374.75,158.49 389.25,180.93 403.75,175.11 418.25,178.02 432.75,177.16 447.25,177.16 461.75,181.96 490.75,181.96 519.75,173.74" stroke="#0000ff" stroke-width="1.0" fill="none"/>
<circle cx="331.25" cy="87.57" r="2.0" fill="#0000ff"/>
<circle cx="345.75" cy="92.2" r="2.0" fill="#0000ff"/>
<circle cx="360.25" cy="141.53" r="2.0" fill="#0000ff"/>
<circle cx="374.75" cy="158.49" r="2.0" fill="#0000ff"/>
<circle cx="389.25" cy="180.93" r="2.0" fill="#0000ff"/>
<circle cx="403.75" cy="175.11" r="2.0" fill="#0000ff"/>
<circle cx="418.25" cy="178.02" r="2.0" fill="#0000ff"/>
<circle cx="432.75" cy="177.16" r="2.0" fill="#0000ff"/>
<circle cx="447.25" cy="177.16" r="2.0" fill="#0000ff"/>
<circle cx="461.75" cy="181.96" r="2.0" fill="#0000ff"/>
<circle cx="490.75" cy="181.96" r="2.0" fill="#0000ff"/>
<circle cx="519.75" cy="173.74" r="2.0" fill="#0000ff"/>
<polyline points="331.25,163.46 345.75,139.65 360.25,118.06 374.75,160.03 389.25,180.93 403.75,171.68 418.25,175.45 432.75,176.3 447.25,178.87 461.75,181.96 490.75,181.96 519.75,172.02" stroke="#9900ff" stroke-width="1.0" fill="none"/>
<circle cx="331.25" cy="163.46" r="2.0" fill="#9900ff"/>
<circle cx="345.75" cy="139.65" r="2.0" fill="#9900ff"/>
<circle cx="360.25" cy="118.06" r="2.0" fill="#9900ff"/>
<circle cx="374.75" cy="160.03" r="2.0" fill="#9900ff"/>
<circle cx="389.25" cy="180.93" r="2.0" fill="#9900ff"/>
<circle cx="403.75" cy="171.68" r="2.0" fill="#9900ff"/>
<circle cx="418.25" cy="175.45" r="2.0" fill="#9900ff"/>
<circle cx="432.75" cy="176.3" r="2.0" fill="#9900ff"/>
<circle cx="447.25" cy="178.87" r="2.0" fill="#9900ff"/>
<circle cx="461.75" cy="181.96" r="2.0" fill="#9900ff"/>
<circle cx="490.75" cy="181.96" r="2.0" fill="#9900ff"/>
<circle cx="519.75" cy="172.02" r="2.0" fill="#9900ff"/>
<polyline points="331.25,164.14 345.75,125.77 360.25,120.97 374.75,158.49 389.25,180.93 403.75,174.59 418.25,175.45 432.75,177.16 447.25,178.02 461.75,181.96 490.75,181.96 519.75,178.02" stroke="#ff0090" stroke-width="1.0" fill="none"/>
<circle cx="331.25" cy="164.14" r="2.0" fill="#ff0090"/>
<circle cx="345.75" cy="125.77" r="2.0" fill="#ff0090"/>
<circle cx="360.25" cy="120.97" r="2.0" fill="#ff0090"/>
<circle cx="374.75" cy="158.49" r="2.0" fill="#ff0090"/>
<circle cx="389.25" cy="180.93" r="2.0" fill="#ff0090"/>
<circle cx="403.75" cy="174.59" r="2.0" fill="#ff0090"/>
<circle cx="418.25" cy="175.45" r="2.0" fill="#ff0090"/>
<circle cx="432.75" cy="177.16" r="2.0" fill="#ff0090"/>
<circle cx="447.25" cy="178.02" r="2.0" fill="#ff0090"/>
<circle cx="461.75" cy="181.96" r="2.0" fill="#ff0090"/>
<circle cx="490.75" cy="181.96" r="2.0" fill="#ff0090"/>
<circle cx="519.75" cy="178.02" r="2.0" fill="#ff0090"/>
<polyline points="331.25,156.78 345.75,113.95 360.25,102.82 374.75,142.56 389.25,180.93 403.75,173.74 418.25,174.59 432.75,174.08 447.25,175.11 461.75,181.44 490.75,181.44 519.75,172.71" stroke="#008000" stroke-width="1.0" fill="none"/>
<circle cx="331.25" cy="156.78" r="2.0" fill="#008000"/>
<circle cx="345.75" cy="113.95" r="2.0" fill="#008000"/>
<circle cx="360.25" cy="102.82" r="2.0" fill="#008000"/>
<circle cx="374.75" cy="142.56" r="2.0" fill="#008000"/>
<circle cx="389.25" cy="180.93" r="2.0" fill="#008000"/>
<circle cx="403.75" cy="173.74" r="2.0" fill="#008000"/>
<circle cx="418.25" cy="174.59" r="2.0" fill="#008000"/>
<circle cx="432.75" cy="174.08" r="2.0" fill="#008000"/>
<circle cx="447.25" cy="175.11" r="2.0" fill="#008000"/>
<circle cx="461.75" cy="181.44" r="2.0" fill="#008000"/>
<circle cx="490.75" cy="181.44" r="2.0" fill="#008000"/>
<circle cx="519.75" cy="172.71" r="2.0" fill="#008000"/>
<rect x="309.5" y="11" width="232" height="171.3" fill="none" stroke="#333333" stroke-width="1.05"/>
<path d="M309.5 182.3V179.3" stroke="#333333" stroke-width="0.8"/>
<text x="311.5" y="194.6" text-anchor="end" transform="rotate(-45 311.5 194.6)" font-family="Liberation Serif" font-weight="bold" font-size="8.5" fill="#1a1a1a" stroke="#1a1a1a" stroke-width="0.25">6/3</text>
<path d="M338.5 182.3V179.3" stroke="#333333" stroke-width="0.8"/>
<text x="340.5" y="194.6" text-anchor="end" transform="rotate(-45 340.5 194.6)" font-family="Liberation Serif" font-weight="bold" font-size="8.5" fill="#1a1a1a" stroke="#1a1a1a" stroke-width="0.25">6/5</text>
<path d="M367.5 182.3V179.3" stroke="#333333" stroke-width="0.8"/>
<text x="369.5" y="194.6" text-anchor="end" transform="rotate(-45 369.5 194.6)" font-family="Liberation Serif" font-weight="bold" font-size="8.5" fill="#1a1a1a" stroke="#1a1a1a" stroke-width="0.25">6/7</text>
<path d="M396.5 182.3V179.3" stroke="#333333" stroke-width="0.8"/>
<text x="398.5" y="194.6" text-anchor="end" transform="rotate(-45 398.5 194.6)" font-family="Liberation Serif" font-weight="bold" font-size="8.5" fill="#1a1a1a" stroke="#1a1a1a" stroke-width="0.25">6/9</text>
<path d="M425.5 182.3V179.3" stroke="#333333" stroke-width="0.8"/>
<text x="427.5" y="194.6" text-anchor="end" transform="rotate(-45 427.5 194.6)" font-family="Liberation Serif" font-weight="bold" font-size="8.5" fill="#1a1a1a" stroke="#1a1a1a" stroke-width="0.25">6/11</text>
<path d="M454.5 182.3V179.3" stroke="#333333" stroke-width="0.8"/>
<text x="456.5" y="194.6" text-anchor="end" transform="rotate(-45 456.5 194.6)" font-family="Liberation Serif" font-weight="bold" font-size="8.5" fill="#1a1a1a" stroke="#1a1a1a" stroke-width="0.25">6/13</text>
<path d="M483.5 182.3V179.3" stroke="#333333" stroke-width="0.8"/>
<text x="485.5" y="194.6" text-anchor="end" transform="rotate(-45 485.5 194.6)" font-family="Liberation Serif" font-weight="bold" font-size="8.5" fill="#1a1a1a" stroke="#1a1a1a" stroke-width="0.25">6/15</text>
<path d="M512.5 182.3V179.3" stroke="#333333" stroke-width="0.8"/>
<text x="514.5" y="194.6" text-anchor="end" transform="rotate(-45 514.5 194.6)" font-family="Liberation Serif" font-weight="bold" font-size="8.5" fill="#1a1a1a" stroke="#1a1a1a" stroke-width="0.25">6/17</text>
<path d="M541.5 182.3V179.3" stroke="#333333" stroke-width="0.8"/>
<text x="543.5" y="194.6" text-anchor="end" transform="rotate(-45 543.5 194.6)" font-family="Liberation Serif" font-weight="bold" font-size="8.5" fill="#1a1a1a" stroke="#1a1a1a" stroke-width="0.25">6/19</text>
<path d="M309.5 182.3H312.5" stroke="#333333" stroke-width="0.8"/>
<text x="306.2" y="185.2" text-anchor="end" font-family="Liberation Serif" font-weight="bold" font-size="8.5" fill="#1a1a1a" stroke="#1a1a1a" stroke-width="0.25">0</text>
<path d="M309.5 148.04H312.5" stroke="#333333" stroke-width="0.8"/>
<text x="306.2" y="150.94" text-anchor="end" font-family="Liberation Serif" font-weight="bold" font-size="8.5" fill="#1a1a1a" stroke="#1a1a1a" stroke-width="0.25">2</text>
<path d="M309.5 113.78H312.5" stroke="#333333" stroke-width="0.8"/>
<text x="306.2" y="116.68" text-anchor="end" font-family="Liberation Serif" font-weight="bold" font-size="8.5" fill="#1a1a1a" stroke="#1a1a1a" stroke-width="0.25">4</text>
<path d="M309.5 79.52H312.5" stroke="#333333" stroke-width="0.8"/>
<text x="306.2" y="82.42" text-anchor="end" font-family="Liberation Serif" font-weight="bold" font-size="8.5" fill="#1a1a1a" stroke="#1a1a1a" stroke-width="0.25">6</text>
<path d="M309.5 45.26H312.5" stroke="#333333" stroke-width="0.8"/>
<text x="306.2" y="48.16" text-anchor="end" font-family="Liberation Serif" font-weight="bold" font-size="8.5" fill="#1a1a1a" stroke="#1a1a1a" stroke-width="0.25">8</text>
<path d="M309.5 11H312.5" stroke="#333333" stroke-width="0.8"/>
<text x="306.2" y="13.9" text-anchor="end" font-family="Liberation Serif" font-weight="bold" font-size="8.5" fill="#1a1a1a" stroke="#1a1a1a" stroke-width="0.25">10</text>
<text x="448.7" y="32.3" font-family="Liberation Serif" font-weight="bold" font-size="8.5" fill="#1a1a1a" stroke="#1a1a1a" stroke-width="0.25" xml:space="preserve">(b1) BF stage in 2019</text>
<text transform="translate(290.9 141) rotate(-90) scale(0.950)" font-family="Liberation Serif" font-weight="bold" font-size="8.7" fill="#1a1a1a" stroke="#1a1a1a" stroke-width="0.25">NH<tspan font-size="6" dy="2">3</tspan><tspan dy="-2"> flux/kg hm</tspan><tspan font-size="7" dx="1" dy="-4.2">&#8722;2</tspan><tspan dy="4.2"> d</tspan><tspan font-size="7" dy="-4.2">&#8722;1</tspan></text>
<path d="M73.25 383.34V386M71.75 383.34H74.75M71.75 386H74.75" stroke="#000000" stroke-width="0.6" fill="none" opacity="0.7"/>
<path d="M112.5 378.9V386M111 378.9H114M111 386H114" stroke="#000000" stroke-width="0.6" fill="none" opacity="0.7"/>
<path d="M151.75 391.33V394M150.25 391.33H153.25M150.25 394H153.25" stroke="#000000" stroke-width="0.6" fill="none" opacity="0.7"/>
<path d="M230.25 377.57V380.23M228.75 377.57H231.75M228.75 380.23H231.75" stroke="#000000" stroke-width="0.6" fill="none" opacity="0.7"/>
<path d="M73.25 378.46V382.9M71.75 378.46H74.75M71.75 382.9H74.75" stroke="#ff0000" stroke-width="0.6" fill="none" opacity="0.7"/>
<path d="M112.5 345.16V371.8M111 345.16H114M111 371.8H114" stroke="#ff0000" stroke-width="0.6" fill="none" opacity="0.7"/>
<path d="M151.75 379.79V384.23M150.25 379.79H153.25M150.25 384.23H153.25" stroke="#ff0000" stroke-width="0.6" fill="none" opacity="0.7"/>
<path d="M230.25 378.9V383.34M228.75 378.9H231.75M228.75 383.34H231.75" stroke="#ff0000" stroke-width="0.6" fill="none" opacity="0.7"/>
<path d="M73.25 333.17V350.93M71.75 333.17H74.75M71.75 350.93H74.75" stroke="#0000ff" stroke-width="0.6" fill="none" opacity="0.7"/>
<path d="M112.5 318.96V341.16M111 318.96H114M111 341.16H114" stroke="#0000ff" stroke-width="0.6" fill="none" opacity="0.7"/>
<path d="M151.75 381.56V386M150.25 381.56H153.25M150.25 386H153.25" stroke="#0000ff" stroke-width="0.6" fill="none" opacity="0.7"/>
<path d="M230.25 368.69V371.35M228.75 368.69H231.75M228.75 371.35H231.75" stroke="#0000ff" stroke-width="0.6" fill="none" opacity="0.7"/>
<path d="M73.25 374.9V383.78M71.75 374.9H74.75M71.75 383.78H74.75" stroke="#008000" stroke-width="0.6" fill="none" opacity="0.7"/>
<path d="M112.5 308.3V379.34M111 308.3H114M111 379.34H114" stroke="#008000" stroke-width="0.6" fill="none" opacity="0.7"/>
<path d="M151.75 382.01V386.45M150.25 382.01H153.25M150.25 386.45H153.25" stroke="#008000" stroke-width="0.6" fill="none" opacity="0.7"/>
<path d="M230.25 376.68V381.12M228.75 376.68H231.75M228.75 381.12H231.75" stroke="#008000" stroke-width="0.6" fill="none" opacity="0.7"/>
<path d="M73.25 318.96V350.04M71.75 318.96H74.75M71.75 350.04H74.75" stroke="#00ff00" stroke-width="0.6" fill="none" opacity="0.7"/>
<path d="M112.5 280.33V331.84M111 280.33H114M111 331.84H114" stroke="#00ff00" stroke-width="0.6" fill="none" opacity="0.7"/>
<path d="M151.75 369.58V383.78M150.25 369.58H153.25M150.25 383.78H153.25" stroke="#00ff00" stroke-width="0.6" fill="none" opacity="0.7"/>
<path d="M230.25 378.46V382.9M228.75 378.46H231.75M228.75 382.9H231.75" stroke="#00ff00" stroke-width="0.6" fill="none" opacity="0.7"/>
<path d="M73.25 326.95V384.67M71.75 326.95H74.75M71.75 384.67H74.75" stroke="#ff8000" stroke-width="0.6" fill="none" opacity="0.7"/>
<path d="M112.5 277.67V332.72M111 277.67H114M111 332.72H114" stroke="#ff8000" stroke-width="0.6" fill="none" opacity="0.7"/>
<path d="M151.75 386V390.44M150.25 386H153.25M150.25 390.44H153.25" stroke="#ff8000" stroke-width="0.6" fill="none" opacity="0.7"/>
<path d="M230.25 374.46V389.56M228.75 374.46H231.75M228.75 389.56H231.75" stroke="#ff8000" stroke-width="0.6" fill="none" opacity="0.7"/>
<polyline points="73.25,384.67 112.5,382.45 151.75,392.66 230.25,378.9" stroke="#000000" stroke-width="1.15" fill="none"/>
<circle cx="73.25" cy="384.67" r="2.1" fill="#000000"/>
<circle cx="112.5" cy="382.45" r="2.1" fill="#000000"/>
<circle cx="151.75" cy="392.66" r="2.1" fill="#000000"/>
<circle cx="230.25" cy="378.9" r="2.1" fill="#000000"/>
<polyline points="73.25,380.68 112.5,358.48 151.75,382.01 230.25,381.12" stroke="#ff0000" stroke-width="1.15" fill="none"/>
<circle cx="73.25" cy="380.68" r="2.1" fill="#ff0000"/>
<circle cx="112.5" cy="358.48" r="2.1" fill="#ff0000"/>
<circle cx="151.75" cy="382.01" r="2.1" fill="#ff0000"/>
<circle cx="230.25" cy="381.12" r="2.1" fill="#ff0000"/>
<polyline points="73.25,334.5 112.5,306.08 151.75,376.68 230.25,380.68" stroke="#00ff00" stroke-width="1.15" fill="none"/>
<circle cx="73.25" cy="334.5" r="2.1" fill="#00ff00"/>
<circle cx="112.5" cy="306.08" r="2.1" fill="#00ff00"/>
<circle cx="151.75" cy="376.68" r="2.1" fill="#00ff00"/>
<circle cx="230.25" cy="380.68" r="2.1" fill="#00ff00"/>
<polyline points="73.25,355.81 112.5,305.2 151.75,388.22 230.25,382.01" stroke="#ff8000" stroke-width="1.15" fill="none"/>
<circle cx="73.25" cy="355.81" r="2.1" fill="#ff8000"/>
<circle cx="112.5" cy="305.2" r="2.1" fill="#ff8000"/>
<circle cx="151.75" cy="388.22" r="2.1" fill="#ff8000"/>
<circle cx="230.25" cy="382.01" r="2.1" fill="#ff8000"/>
<polyline points="73.25,342.05 112.5,330.06 151.75,383.78 230.25,370.02" stroke="#0000ff" stroke-width="1.15" fill="none"/>
<circle cx="73.25" cy="342.05" r="2.1" fill="#0000ff"/>
<circle cx="112.5" cy="330.06" r="2.1" fill="#0000ff"/>
<circle cx="151.75" cy="383.78" r="2.1" fill="#0000ff"/>
<circle cx="230.25" cy="370.02" r="2.1" fill="#0000ff"/>
<polyline points="73.25,374.02 112.5,333.61 151.75,384.67 230.25,376.24" stroke="#9900ff" stroke-width="1.15" fill="none"/>
<circle cx="73.25" cy="374.02" r="2.1" fill="#9900ff"/>
<circle cx="112.5" cy="333.61" r="2.1" fill="#9900ff"/>
<circle cx="151.75" cy="384.67" r="2.1" fill="#9900ff"/>
<circle cx="230.25" cy="376.24" r="2.1" fill="#9900ff"/>
<polyline points="73.25,383.78 112.5,351.82 151.75,382.01 230.25,373.13" stroke="#ff0090" stroke-width="1.15" fill="none"/>
<circle cx="73.25" cy="383.78" r="2.1" fill="#ff0090"/>
<circle cx="112.5" cy="351.82" r="2.1" fill="#ff0090"/>
<circle cx="151.75" cy="382.01" r="2.1" fill="#ff0090"/>
<circle cx="230.25" cy="373.13" r="2.1" fill="#ff0090"/>
<polyline points="73.25,379.34 112.5,343.82 151.75,384.23 230.25,378.9" stroke="#008000" stroke-width="1.15" fill="none"/>
<circle cx="73.25" cy="379.34" r="2.1" fill="#008000"/>
<circle cx="112.5" cy="343.82" r="2.1" fill="#008000"/>
<circle cx="151.75" cy="384.23" r="2.1" fill="#008000"/>
<circle cx="230.25" cy="378.9" r="2.1" fill="#008000"/>
<rect x="34" y="223.5" width="235.5" height="177.6" fill="none" stroke="#333333" stroke-width="1.05"/>
<path d="M34 401.1V398.1" stroke="#333333" stroke-width="0.8"/>
<text x="36" y="413.4" text-anchor="end" transform="rotate(-45 36 413.4)" font-family="Liberation Serif" font-weight="bold" font-size="8.5" fill="#1a1a1a" stroke="#1a1a1a" stroke-width="0.25">7/4</text>
<path d="M73.25 401.1V398.1" stroke="#333333" stroke-width="0.8"/>
<text x="75.25" y="413.4" text-anchor="end" transform="rotate(-45 75.25 413.4)" font-family="Liberation Serif" font-weight="bold" font-size="8.5" fill="#1a1a1a" stroke="#1a1a1a" stroke-width="0.25">7/5</text>
<path d="M112.5 401.1V398.1" stroke="#333333" stroke-width="0.8"/>
<text x="114.5" y="413.4" text-anchor="end" transform="rotate(-45 114.5 413.4)" font-family="Liberation Serif" font-weight="bold" font-size="8.5" fill="#1a1a1a" stroke="#1a1a1a" stroke-width="0.25">7/6</text>
<path d="M151.75 401.1V398.1" stroke="#333333" stroke-width="0.8"/>
<text x="153.75" y="413.4" text-anchor="end" transform="rotate(-45 153.75 413.4)" font-family="Liberation Serif" font-weight="bold" font-size="8.5" fill="#1a1a1a" stroke="#1a1a1a" stroke-width="0.25">7/7</text>
<path d="M191 401.1V398.1" stroke="#333333" stroke-width="0.8"/>
<text x="193" y="413.4" text-anchor="end" transform="rotate(-45 193 413.4)" font-family="Liberation Serif" font-weight="bold" font-size="8.5" fill="#1a1a1a" stroke="#1a1a1a" stroke-width="0.25">7/8</text>
<path d="M230.25 401.1V398.1" stroke="#333333" stroke-width="0.8"/>
<text x="232.25" y="413.4" text-anchor="end" transform="rotate(-45 232.25 413.4)" font-family="Liberation Serif" font-weight="bold" font-size="8.5" fill="#1a1a1a" stroke="#1a1a1a" stroke-width="0.25">7/9</text>
<path d="M269.5 401.1V398.1" stroke="#333333" stroke-width="0.8"/>
<text x="271.5" y="413.4" text-anchor="end" transform="rotate(-45 271.5 413.4)" font-family="Liberation Serif" font-weight="bold" font-size="8.5" fill="#1a1a1a" stroke="#1a1a1a" stroke-width="0.25">7/10</text>
<path d="M34 401.1H37" stroke="#333333" stroke-width="0.8"/>
<text x="30.7" y="404" text-anchor="end" font-family="Liberation Serif" font-weight="bold" font-size="8.5" fill="#1a1a1a" stroke="#1a1a1a" stroke-width="0.25">0</text>
<path d="M34 356.7H37" stroke="#333333" stroke-width="0.8"/>
<text x="30.7" y="359.6" text-anchor="end" font-family="Liberation Serif" font-weight="bold" font-size="8.5" fill="#1a1a1a" stroke="#1a1a1a" stroke-width="0.25">1</text>
<path d="M34 312.3H37" stroke="#333333" stroke-width="0.8"/>
<text x="30.7" y="315.2" text-anchor="end" font-family="Liberation Serif" font-weight="bold" font-size="8.5" fill="#1a1a1a" stroke="#1a1a1a" stroke-width="0.25">2</text>
<path d="M34 267.9H37" stroke="#333333" stroke-width="0.8"/>
<text x="30.7" y="270.8" text-anchor="end" font-family="Liberation Serif" font-weight="bold" font-size="8.5" fill="#1a1a1a" stroke="#1a1a1a" stroke-width="0.25">3</text>
<path d="M34 223.5H37" stroke="#333333" stroke-width="0.8"/>
<text x="30.7" y="226.4" text-anchor="end" font-family="Liberation Serif" font-weight="bold" font-size="8.5" fill="#1a1a1a" stroke="#1a1a1a" stroke-width="0.25">4</text>
<text x="171.3" y="253.9" font-family="Liberation Serif" font-weight="bold" font-size="8.5" fill="#1a1a1a" stroke="#1a1a1a" stroke-width="0.25" xml:space="preserve">(a2) TF stage in 2018</text>
<text transform="translate(20.2 358.9) rotate(-90) scale(1.000)" font-family="Liberation Serif" font-weight="bold" font-size="8.7" fill="#1a1a1a" stroke="#1a1a1a" stroke-width="0.25">NH<tspan font-size="6" dy="2">3</tspan><tspan dy="-2"> flux/kg hm</tspan><tspan font-size="7" dx="1" dy="-4.2">&#8722;2</tspan><tspan dy="4.2"> d</tspan><tspan font-size="7" dy="-4.2">&#8722;1</tspan></text>
<path d="M319.62 391.58V396.13M318.12 391.58H321.12M318.12 396.13H321.12" stroke="#000000" stroke-width="0.6" fill="none" opacity="0.7"/>
<path d="M352.86 392.04V396.58M351.36 392.04H354.36M351.36 396.58H354.36" stroke="#000000" stroke-width="0.6" fill="none" opacity="0.7"/>
<path d="M386.11 394.76V399.31M384.61 394.76H387.61M384.61 399.31H387.61" stroke="#000000" stroke-width="0.6" fill="none" opacity="0.7"/>
<path d="M419.35 389.31V393.86M417.85 389.31H420.85M417.85 393.86H420.85" stroke="#000000" stroke-width="0.6" fill="none" opacity="0.7"/>
<path d="M452.59 391.13V395.67M451.09 391.13H454.09M451.09 395.67H454.09" stroke="#000000" stroke-width="0.6" fill="none" opacity="0.7"/>
<path d="M519.08 394.31V398.85M517.58 394.31H520.58M517.58 398.85H520.58" stroke="#000000" stroke-width="0.6" fill="none" opacity="0.7"/>
<path d="M319.62 368.4V372.95M318.12 368.4H321.12M318.12 372.95H321.12" stroke="#ff0000" stroke-width="0.6" fill="none" opacity="0.7"/>
<path d="M352.86 367.95V378.86M351.36 367.95H354.36M351.36 378.86H354.36" stroke="#ff0000" stroke-width="0.6" fill="none" opacity="0.7"/>
<path d="M386.11 351.13V355.68M384.61 351.13H387.61M384.61 355.68H387.61" stroke="#ff0000" stroke-width="0.6" fill="none" opacity="0.7"/>
<path d="M419.35 377.04V381.58M417.85 377.04H420.85M417.85 381.58H420.85" stroke="#ff0000" stroke-width="0.6" fill="none" opacity="0.7"/>
<path d="M452.59 382.04V386.58M451.09 382.04H454.09M451.09 386.58H454.09" stroke="#ff0000" stroke-width="0.6" fill="none" opacity="0.7"/>
<path d="M519.08 392.95V397.49M517.58 392.95H520.58M517.58 397.49H520.58" stroke="#ff0000" stroke-width="0.6" fill="none" opacity="0.7"/>
<path d="M319.62 373.4V382.49M318.12 373.4H321.12M318.12 382.49H321.12" stroke="#0000ff" stroke-width="0.6" fill="none" opacity="0.7"/>
<path d="M352.86 382.49V387.04M351.36 382.49H354.36M351.36 387.04H354.36" stroke="#0000ff" stroke-width="0.6" fill="none" opacity="0.7"/>
<path d="M386.11 382.49V387.04M384.61 382.49H387.61M384.61 387.04H387.61" stroke="#0000ff" stroke-width="0.6" fill="none" opacity="0.7"/>
<path d="M419.35 380.22V389.31M417.85 380.22H420.85M417.85 389.31H420.85" stroke="#0000ff" stroke-width="0.6" fill="none" opacity="0.7"/>
<path d="M452.59 392.04V396.58M451.09 392.04H454.09M451.09 396.58H454.09" stroke="#0000ff" stroke-width="0.6" fill="none" opacity="0.7"/>
<path d="M519.08 392.95V397.49M517.58 392.95H520.58M517.58 397.49H520.58" stroke="#0000ff" stroke-width="0.6" fill="none" opacity="0.7"/>
<path d="M319.62 392.95V402.04M318.12 392.95H321.12M318.12 402.04H321.12" stroke="#ff0090" stroke-width="0.6" fill="none" opacity="0.7"/>
<path d="M352.86 391.13V395.67M351.36 391.13H354.36M351.36 395.67H354.36" stroke="#ff0090" stroke-width="0.6" fill="none" opacity="0.7"/>
<path d="M386.11 392.04V396.58M384.61 392.04H387.61M384.61 396.58H387.61" stroke="#ff0090" stroke-width="0.6" fill="none" opacity="0.7"/>
<path d="M419.35 391.58V396.13M417.85 391.58H420.85M417.85 396.13H420.85" stroke="#ff0090" stroke-width="0.6" fill="none" opacity="0.7"/>
<path d="M452.59 391.13V395.67M451.09 391.13H454.09M451.09 395.67H454.09" stroke="#ff0090" stroke-width="0.6" fill="none" opacity="0.7"/>
<path d="M519.08 392.95V397.49M517.58 392.95H520.58M517.58 397.49H520.58" stroke="#ff0090" stroke-width="0.6" fill="none" opacity="0.7"/>
<path d="M319.62 359.77V374.31M318.12 359.77H321.12M318.12 374.31H321.12" stroke="#00ff00" stroke-width="0.6" fill="none" opacity="0.7"/>
<path d="M352.86 373.86V378.4M351.36 373.86H354.36M351.36 378.4H354.36" stroke="#00ff00" stroke-width="0.6" fill="none" opacity="0.7"/>
<path d="M386.11 386.58V391.13M384.61 386.58H387.61M384.61 391.13H387.61" stroke="#00ff00" stroke-width="0.6" fill="none" opacity="0.7"/>
<path d="M419.35 380.22V384.77M417.85 380.22H420.85M417.85 384.77H420.85" stroke="#00ff00" stroke-width="0.6" fill="none" opacity="0.7"/>
<path d="M452.59 386.58V391.13M451.09 386.58H454.09M451.09 391.13H454.09" stroke="#00ff00" stroke-width="0.6" fill="none" opacity="0.7"/>
<path d="M519.08 390.22V394.76M517.58 390.22H520.58M517.58 394.76H520.58" stroke="#00ff00" stroke-width="0.6" fill="none" opacity="0.7"/>
<path d="M319.62 388.4V397.49M318.12 388.4H321.12M318.12 397.49H321.12" stroke="#008000" stroke-width="0.6" fill="none" opacity="0.7"/>
<path d="M352.86 384.31V388.86M351.36 384.31H354.36M351.36 388.86H354.36" stroke="#008000" stroke-width="0.6" fill="none" opacity="0.7"/>
<path d="M386.11 357.5V382.95M384.61 357.5H387.61M384.61 382.95H387.61" stroke="#008000" stroke-width="0.6" fill="none" opacity="0.7"/>
<path d="M419.35 357.04V401.58M417.85 357.04H420.85M417.85 401.58H420.85" stroke="#008000" stroke-width="0.6" fill="none" opacity="0.7"/>
<path d="M452.59 375.22V387.95M451.09 375.22H454.09M451.09 387.95H454.09" stroke="#008000" stroke-width="0.6" fill="none" opacity="0.7"/>
<path d="M519.08 382.49V396.13M517.58 382.49H520.58M517.58 396.13H520.58" stroke="#008000" stroke-width="0.6" fill="none" opacity="0.7"/>
<polyline points="319.62,393.86 352.86,394.31 386.11,397.04 419.35,391.58 452.59,393.4 519.08,396.58" stroke="#000000" stroke-width="1.0" fill="none"/>
<circle cx="319.62" cy="393.86" r="2.0" fill="#000000"/>
<circle cx="352.86" cy="394.31" r="2.0" fill="#000000"/>
<circle cx="386.11" cy="397.04" r="2.0" fill="#000000"/>
<circle cx="419.35" cy="391.58" r="2.0" fill="#000000"/>
<circle cx="452.59" cy="393.4" r="2.0" fill="#000000"/>
<circle cx="519.08" cy="396.58" r="2.0" fill="#000000"/>
<polyline points="319.62,370.68 352.86,373.4 386.11,353.4 419.35,379.31 452.59,384.31 519.08,395.22" stroke="#ff0000" stroke-width="1.0" fill="none"/>
<circle cx="319.62" cy="370.68" r="2.0" fill="#ff0000"/>
<circle cx="352.86" cy="373.4" r="2.0" fill="#ff0000"/>
<circle cx="386.11" cy="353.4" r="2.0" fill="#ff0000"/>
<circle cx="419.35" cy="379.31" r="2.0" fill="#ff0000"/>
<circle cx="452.59" cy="384.31" r="2.0" fill="#ff0000"/>
<circle cx="519.08" cy="395.22" r="2.0" fill="#ff0000"/>
<polyline points="319.62,367.04 352.86,376.13 386.11,388.86 419.35,382.49 452.59,388.86 519.08,392.49" stroke="#00ff00" stroke-width="1.0" fill="none"/>
<circle cx="319.62" cy="367.04" r="2.0" fill="#00ff00"/>
<circle cx="352.86" cy="376.13" r="2.0" fill="#00ff00"/>
<circle cx="386.11" cy="388.86" r="2.0" fill="#00ff00"/>
<circle cx="419.35" cy="382.49" r="2.0" fill="#00ff00"/>
<circle cx="452.59" cy="388.86" r="2.0" fill="#00ff00"/>
<circle cx="519.08" cy="392.49" r="2.0" fill="#00ff00"/>
<polyline points="319.62,374.31 352.86,384.31 386.11,372.49 419.35,384.31 452.59,389.76 519.08,397.49" stroke="#ff8000" stroke-width="1.0" fill="none"/>
<circle cx="319.62" cy="374.31" r="2.0" fill="#ff8000"/>
<circle cx="352.86" cy="384.31" r="2.0" fill="#ff8000"/>
<circle cx="386.11" cy="372.49" r="2.0" fill="#ff8000"/>
<circle cx="419.35" cy="384.31" r="2.0" fill="#ff8000"/>
<circle cx="452.59" cy="389.76" r="2.0" fill="#ff8000"/>
<circle cx="519.08" cy="397.49" r="2.0" fill="#ff8000"/>
<polyline points="319.62,377.95 352.86,384.77 386.11,384.77 419.35,384.77 452.59,394.31 519.08,395.22" stroke="#0000ff" stroke-width="1.0" fill="none"/>
<circle cx="319.62" cy="377.95" r="2.0" fill="#0000ff"/>
<circle cx="352.86" cy="384.77" r="2.0" fill="#0000ff"/>
<circle cx="386.11" cy="384.77" r="2.0" fill="#0000ff"/>
<circle cx="419.35" cy="384.77" r="2.0" fill="#0000ff"/>
<circle cx="452.59" cy="394.31" r="2.0" fill="#0000ff"/>
<circle cx="519.08" cy="395.22" r="2.0" fill="#0000ff"/>
<polyline points="319.62,395.22 352.86,383.4 386.11,381.13 419.35,379.77 452.59,382.95 519.08,387.04" stroke="#9900ff" stroke-width="1.0" fill="none"/>
<circle cx="319.62" cy="395.22" r="2.0" fill="#9900ff"/>
<circle cx="352.86" cy="383.4" r="2.0" fill="#9900ff"/>
<circle cx="386.11" cy="381.13" r="2.0" fill="#9900ff"/>
<circle cx="419.35" cy="379.77" r="2.0" fill="#9900ff"/>
<circle cx="452.59" cy="382.95" r="2.0" fill="#9900ff"/>
<circle cx="519.08" cy="387.04" r="2.0" fill="#9900ff"/>
<polyline points="319.62,397.49 352.86,393.4 386.11,394.31 419.35,393.86 452.59,393.4 519.08,395.22" stroke="#ff0090" stroke-width="1.0" fill="none"/>
<circle cx="319.62" cy="397.49" r="2.0" fill="#ff0090"/>
<circle cx="352.86" cy="393.4" r="2.0" fill="#ff0090"/>
<circle cx="386.11" cy="394.31" r="2.0" fill="#ff0090"/>
<circle cx="419.35" cy="393.86" r="2.0" fill="#ff0090"/>
<circle cx="452.59" cy="393.4" r="2.0" fill="#ff0090"/>
<circle cx="519.08" cy="395.22" r="2.0" fill="#ff0090"/>
<polyline points="319.62,392.95 352.86,386.58 386.11,370.22 419.35,379.31 452.59,381.58 519.08,389.31" stroke="#008000" stroke-width="1.0" fill="none"/>
<circle cx="319.62" cy="392.95" r="2.0" fill="#008000"/>
<circle cx="352.86" cy="386.58" r="2.0" fill="#008000"/>
<circle cx="386.11" cy="370.22" r="2.0" fill="#008000"/>
<circle cx="419.35" cy="379.31" r="2.0" fill="#008000"/>
<circle cx="452.59" cy="381.58" r="2.0" fill="#008000"/>
<circle cx="519.08" cy="389.31" r="2.0" fill="#008000"/>
<rect x="303" y="221.6" width="232.7" height="181.8" fill="none" stroke="#333333" stroke-width="1.05"/>
<path d="M303 403.4V400.4" stroke="#333333" stroke-width="0.8"/>
<text x="309.2" y="414.9" text-anchor="end" transform="rotate(-45 309.2 414.9)" font-family="Liberation Serif" font-weight="bold" font-size="8.5" fill="#1a1a1a" stroke="#1a1a1a" stroke-width="0.25">7/14</text>
<path d="M336.24 403.4V400.4" stroke="#333333" stroke-width="0.8"/>
<text x="342.44" y="414.9" text-anchor="end" transform="rotate(-45 342.44 414.9)" font-family="Liberation Serif" font-weight="bold" font-size="8.5" fill="#1a1a1a" stroke="#1a1a1a" stroke-width="0.25">7/15</text>
<path d="M369.49 403.4V400.4" stroke="#333333" stroke-width="0.8"/>
<text x="375.69" y="414.9" text-anchor="end" transform="rotate(-45 375.69 414.9)" font-family="Liberation Serif" font-weight="bold" font-size="8.5" fill="#1a1a1a" stroke="#1a1a1a" stroke-width="0.25">7/16</text>
<path d="M402.73 403.4V400.4" stroke="#333333" stroke-width="0.8"/>
<text x="408.93" y="414.9" text-anchor="end" transform="rotate(-45 408.93 414.9)" font-family="Liberation Serif" font-weight="bold" font-size="8.5" fill="#1a1a1a" stroke="#1a1a1a" stroke-width="0.25">7/17</text>
<path d="M435.97 403.4V400.4" stroke="#333333" stroke-width="0.8"/>
<text x="442.17" y="414.9" text-anchor="end" transform="rotate(-45 442.17 414.9)" font-family="Liberation Serif" font-weight="bold" font-size="8.5" fill="#1a1a1a" stroke="#1a1a1a" stroke-width="0.25">7/18</text>
<path d="M469.21 403.4V400.4" stroke="#333333" stroke-width="0.8"/>
<text x="475.41" y="414.9" text-anchor="end" transform="rotate(-45 475.41 414.9)" font-family="Liberation Serif" font-weight="bold" font-size="8.5" fill="#1a1a1a" stroke="#1a1a1a" stroke-width="0.25">7/19</text>
<path d="M502.46 403.4V400.4" stroke="#333333" stroke-width="0.8"/>
<text x="508.66" y="414.9" text-anchor="end" transform="rotate(-45 508.66 414.9)" font-family="Liberation Serif" font-weight="bold" font-size="8.5" fill="#1a1a1a" stroke="#1a1a1a" stroke-width="0.25">7/20</text>
<path d="M535.7 403.4V400.4" stroke="#333333" stroke-width="0.8"/>
<text x="541.9" y="414.9" text-anchor="end" transform="rotate(-45 541.9 414.9)" font-family="Liberation Serif" font-weight="bold" font-size="8.5" fill="#1a1a1a" stroke="#1a1a1a" stroke-width="0.25">7/21</text>
<path d="M303 403.4H306" stroke="#333333" stroke-width="0.8"/>
<text x="299.7" y="406.3" text-anchor="end" font-family="Liberation Serif" font-weight="bold" font-size="8.5" fill="#1a1a1a" stroke="#1a1a1a" stroke-width="0.25">0</text>
<path d="M303 357.95H306" stroke="#333333" stroke-width="0.8"/>
<text x="299.7" y="360.85" text-anchor="end" font-family="Liberation Serif" font-weight="bold" font-size="8.5" fill="#1a1a1a" stroke="#1a1a1a" stroke-width="0.25">1</text>
<path d="M303 312.5H306" stroke="#333333" stroke-width="0.8"/>
<text x="299.7" y="315.4" text-anchor="end" font-family="Liberation Serif" font-weight="bold" font-size="8.5" fill="#1a1a1a" stroke="#1a1a1a" stroke-width="0.25">2</text>
<path d="M303 267.05H306" stroke="#333333" stroke-width="0.8"/>
<text x="299.7" y="269.95" text-anchor="end" font-family="Liberation Serif" font-weight="bold" font-size="8.5" fill="#1a1a1a" stroke="#1a1a1a" stroke-width="0.25">3</text>
<path d="M303 221.6H306" stroke="#333333" stroke-width="0.8"/>
<text x="299.7" y="224.5" text-anchor="end" font-family="Liberation Serif" font-weight="bold" font-size="8.5" fill="#1a1a1a" stroke="#1a1a1a" stroke-width="0.25">4</text>
<text x="441" y="255.4" font-family="Liberation Serif" font-weight="bold" font-size="8.5" fill="#1a1a1a" stroke="#1a1a1a" stroke-width="0.25" xml:space="preserve">(b2) TF stage in 2019</text>
<text transform="translate(286.5 354.6) rotate(-90) scale(1.000)" font-family="Liberation Serif" font-weight="bold" font-size="8.7" fill="#1a1a1a" stroke="#1a1a1a" stroke-width="0.25">NH<tspan font-size="6" dy="2">3</tspan><tspan dy="-2"> flux/kg hm</tspan><tspan font-size="7" dx="1" dy="-4.2">&#8722;2</tspan><tspan dy="4.2"> d</tspan><tspan font-size="7" dy="-4.2">&#8722;1</tspan></text></svg></body></html>
